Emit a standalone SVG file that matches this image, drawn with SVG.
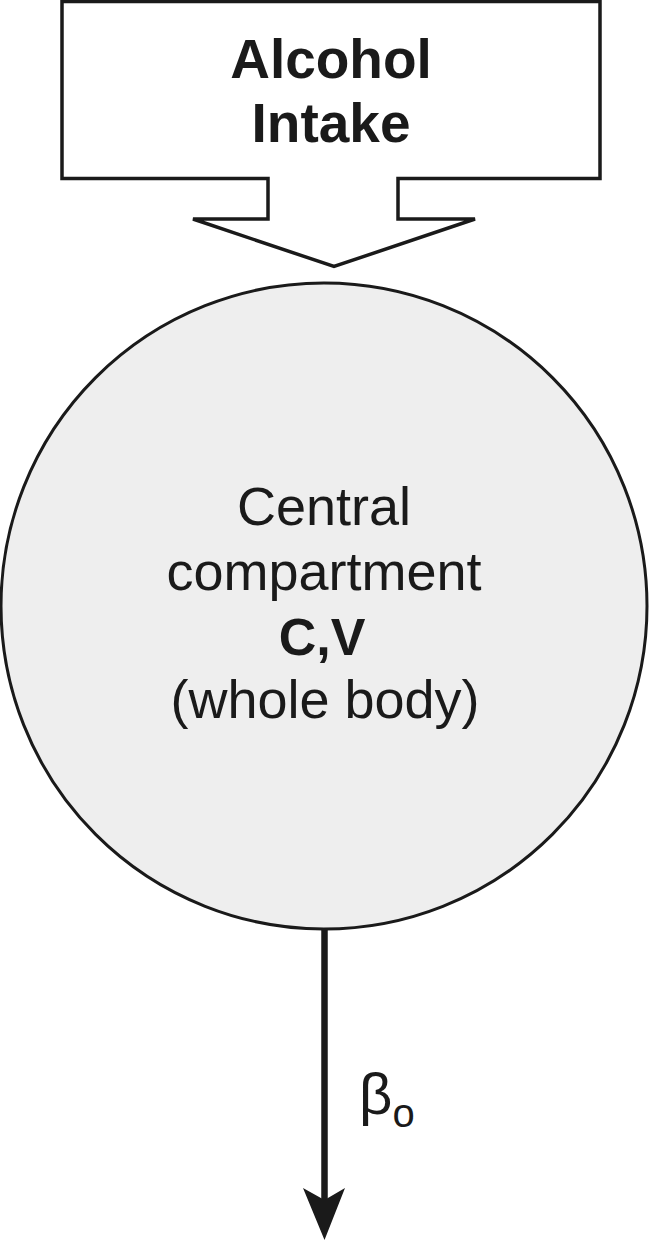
<svg xmlns="http://www.w3.org/2000/svg" width="649" height="1240" viewBox="0 0 649 1240">
<style>
.t{font-family:"Liberation Sans",Arial,Helvetica,sans-serif;fill:#1a1a1a;text-anchor:middle}
.b{font-weight:bold}
.outline{fill:#ffffff;stroke:#1a1a1a;stroke-width:3.5;stroke-linejoin:miter}
.comp{fill:#eeeeee;stroke:#1a1a1a;stroke-width:3}
</style>
<rect width="649" height="1240" fill="#ffffff"/>
<g id="intake">
<path class="outline" d="M62,1.5 H600 V178.5 H398 V219 H475 L334,266.5 L193,219 H268 V178.5 H62 Z"/>
<text class="t b" x="331" y="78" font-size="55">Alcohol</text>
<text class="t b" x="331" y="142" font-size="55">Intake</text>
</g>
<g id="central">
<circle class="comp" cx="324" cy="606" r="323"/>
<text class="t" x="324" y="525" font-size="54">Central</text>
<text class="t" x="324" y="590" font-size="54">compartment</text>
<text class="t b" x="322" y="655" font-size="52">C,V</text>
<text class="t" x="325" y="718" font-size="54">(whole body)</text>
</g>
<g id="connectors">
<line x1="324.5" y1="929" x2="324.5" y2="1200" stroke="#1a1a1a" stroke-width="6.5"/>
<path d="M303,1188 L324.5,1240 L345,1188 L324.5,1200 Z" fill="#1a1a1a"/>
<text class="t" x="359" y="1114" font-size="58" style="text-anchor:start">β<tspan font-size="40" dy="13">o</tspan></text>
</g>
</svg>
